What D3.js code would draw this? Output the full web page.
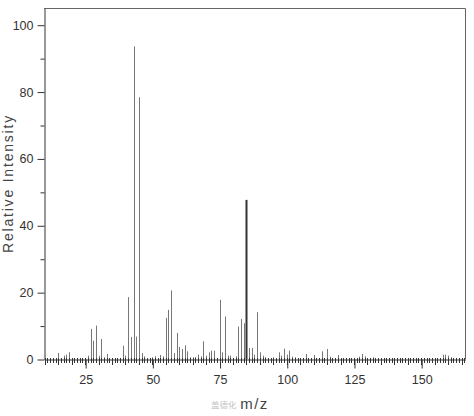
<!DOCTYPE html>
<html>
<head>
<meta charset="utf-8">
<script src="https://cdn.jsdelivr.net/npm/d3@7"></script>
<style>
  body { margin: 0; background: #fff; }
  svg { display: block; font-family: "Liberation Sans", Arial, sans-serif; }
</style>
</head>
<body>
<div id="display"></div>
<script>
// mass spectrum peaks
const mz = [15, 17, 18, 19, 26, 27, 28, 29, 30, 31, 32, 33,
    39, 40, 41, 42, 43, 44, 45, 46, 47, 50, 51, 53, 54,
    55, 56, 57, 58, 59, 60, 61, 62, 63, 64, 65, 66, 67, 68, 69, 70,
    71, 72, 73, 75, 76, 77, 78, 79, 81, 82, 83, 84, 85, 86, 87, 88,
    89, 90, 91, 92, 95, 97, 98, 99, 100, 101, 102, 103, 107, 110,
    113, 115, 116, 119, 127, 128, 129, 132, 158, 159, 160, 161];
const intensity = [1.8, 1, 1.3, 2, 1, 9, 5.5, 10, 1, 6, 0.5, 1.5,
    4, 1, 18.5, 6.6, 93.5, 6.7, 78.3, 1.8, 0.8, 0.5, 0.8, 1.2, 0.8,
    12.3, 14.7, 20.5, 1.8, 7.8, 3.6, 3, 4.1, 2.3, 0.5, 0.5, 0.6, 1.3, 0.8, 5.3, 1,
    2, 2.5, 2.5, 17.7, 2, 12.7, 1, 1, 0.8, 9.7, 12, 10.7, 47.6, 3.3, 3.3, 1.3,
    14, 2, 1, 0.5, 0.5, 2, 1, 3.1, 1.3, 2.5, 0.7, 0.5, 1.5, 1.2,
    2.3, 3, 0.7, 1.2, 0.7, 1.5, 0.8, 0.5, 1.3, 1.3, 1, 0.5];

const xTicks = [25, 50, 75, 100, 125, 150];
const yTicks = [0, 20, 40, 60, 80, 100];
const yMinor = [10, 30, 50, 70, 90];

const W = 474, H = 416;
const pLeft = 44, pRight = 465, pTop = 8, pBottom = 359;

const svg = d3.select('#display')
    .append('svg')
    .attr('width', W)
    .attr('height', H);

const x = d3.scaleLinear().domain([9.7, 166.3]).range([pLeft, pRight]);
const y = d3.scaleLinear().domain([0, 105]).range([pBottom, pTop]);

// frame top/right
svg.append('path')
    .attr('d', `M${pLeft},${pTop + 0.5}H${pRight + 0.5}V${pBottom}`)
    .attr('fill', 'none')
    .attr('stroke', '#666')
    .attr('stroke-width', 1);

// peaks
svg.append('g')
    .selectAll('line')
    .data(mz.map((m, i) => ({m: m, v: intensity[i]})))
    .join('line')
    .attr('x1', d => Math.round(x(d.m)) + 0.5)
    .attr('x2', d => Math.round(x(d.m)) + 0.5)
    .attr('y1', y(0))
    .attr('y2', d => y(d.v))
    .attr('stroke', d => d.m == 85 ? '#333' : '#777')
    .attr('stroke-width', d => d.m == 85 ? 2 : 1);

// x axis small ticks, every unit
const units = d3.range(10, 167);
svg.append('g')
    .selectAll('line')
    .data(units)
    .join('line')
    .attr('x1', d => Math.round(x(d)) + 0.5)
    .attr('x2', d => Math.round(x(d)) + 0.5)
    .attr('y1', pBottom - 1)
    .attr('y2', d => pBottom + (d % 5 == 0 ? 6 : 4))
    .attr('stroke', '#333')
    .attr('stroke-width', 1);

const xAxis = svg.append('g')
    .attr('transform', `translate(0.5,${pBottom + 0.5})`)
    .call(d3.axisBottom(x).tickValues(xTicks).tickSize(9).tickPadding(7).tickSizeOuter(0));
xAxis.select('.domain').attr('stroke', '#333');
xAxis.selectAll('.tick line').attr('stroke', '#333');
xAxis.selectAll('text')
    .attr('fill', '#333')
    .style('font-size', '12.5px')
    .style('font-family', '"Liberation Sans", Arial, sans-serif');

const yAxis = svg.append('g')
    .attr('transform', `translate(${pLeft + 0.5},0.5)`)
    .call(d3.axisLeft(y).tickValues(yTicks).tickSize(7).tickPadding(4).tickSizeOuter(0));
yAxis.select('.domain').attr('stroke', '#333');
yAxis.selectAll('.tick line').attr('stroke', '#333');
yAxis.selectAll('text')
    .attr('fill', '#333')
    .style('font-size', '12.5px')
    .style('font-family', '"Liberation Sans", Arial, sans-serif');

svg.append('g')
    .attr('transform', `translate(${pLeft + 0.5},0.5)`)
    .call(d3.axisLeft(y).tickValues(yMinor).tickSize(4).tickFormat(''))
    .call(g => g.select('.domain').remove())
    .selectAll('.tick line').attr('stroke', '#333');

// titles
svg.append('text')
    .attr('transform', `translate(13,${(pTop + pBottom) / 2}) rotate(-90)`)
    .attr('text-anchor', 'middle')
    .attr('fill', '#444')
    .style('font-size', '14px')
    .style('letter-spacing', '1.8px')
    .text('Relative Intensity');

// faint watermark left of the x title
svg.append('text')
    .attr('x', 211)
    .attr('y', 408)
    .attr('fill', '#c4c4c4')
    .style('font-size', '8.5px')
    .style('font-family', '"Noto Sans CJK SC", sans-serif')
    .text('盖德化');

svg.append('text')
    .attr('x', (pLeft + pRight) / 2)
    .attr('y', 409)
    .attr('text-anchor', 'middle')
    .attr('fill', '#444')
    .style('font-size', '15px')
    .style('letter-spacing', '1.5px')
    .text('m/z');
</script>
</body>
</html>
